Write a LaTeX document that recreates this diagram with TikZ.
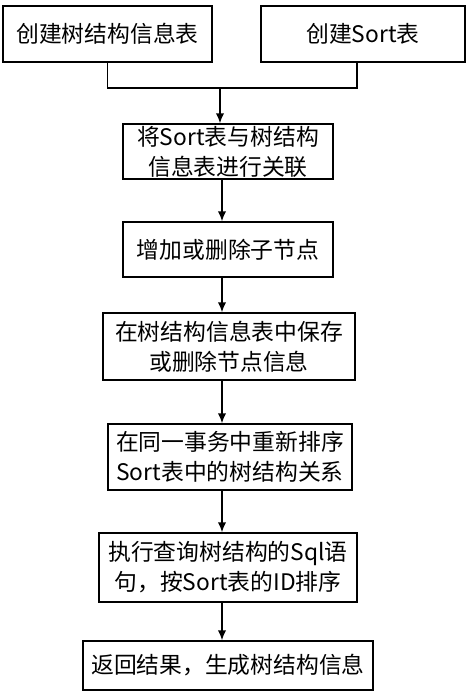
\documentclass[tikz,border=0pt]{standalone}
\usepackage{fontspec}
\setmainfont{Noto Sans CJK SC}
\usetikzlibrary{arrows.meta}
\begin{document}
\begin{tikzpicture}[x=1pt,y=-1pt,
 box/.style={draw, line width=1.5pt, inner sep=0pt, align=center, font=\fontsize{22.8}{30}\selectfont},
 arr/.style={line width=1.5pt, -{Latex[length=10pt,width=8.5pt]}},
 ln/.style={line width=1.5pt}]
\useasboundingbox (0,0) rectangle (474,697);
\node[box, minimum width=209pt, minimum height=56pt] (A) at (107.5,34) {创建树结构信息表};
\node[box, minimum width=204pt, minimum height=56pt] (B) at (363,34) {创建Sort表};
\node[box, minimum width=210pt, minimum height=55pt] (C) at (228,151.5) {将Sort表与树结构\\信息表进行关联};
\node[box, minimum width=210pt, minimum height=55pt] (D) at (228,249.5) {增加或删除子节点};
\node[box, minimum width=252pt, minimum height=67pt] (E) at (229,346.5) {在树结构信息表中保存\\或删除节点信息};
\node[box, minimum width=244pt, minimum height=66pt] (F) at (230,457) {在同一事务中重新排序\\Sort表中的树结构关系};
\node[box, minimum width=258pt, minimum height=69pt] (G) at (228,567.5) {执行查询树结构的Sql语\\句，按Sort表的ID排序};
\node[box, minimum width=290pt, minimum height=49pt] (H) at (228,665.5) {返回结果，生成树结构信息};
\coordinate (ax) at (222,0);
\coordinate (bx) at (357,0);
\coordinate (J) at (220,88);
\draw[ln] (A.south) |- (J) -| (B.south -| bx);
\draw[arr] (J) -- (C.north -| J);
\draw[arr] (C.south -| ax) -- (D.north -| ax);
\draw[arr] (D.south -| ax) -- (E.north -| ax);
\draw[arr] (E.south -| ax) -- (F.north -| ax);
\draw[arr] (F.south -| ax) -- (G.north -| ax);
\draw[arr] (G.south -| ax) -- (H.north -| ax);
\end{tikzpicture}
\end{document}
